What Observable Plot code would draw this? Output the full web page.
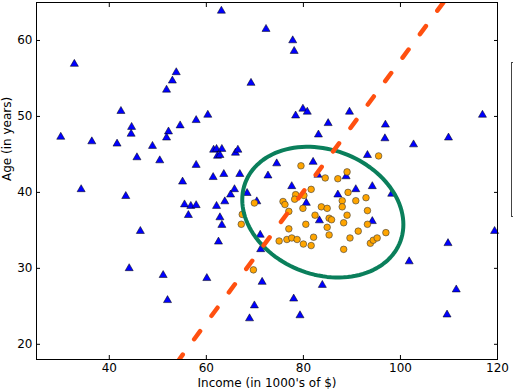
<!DOCTYPE html>
<html>
<head>
<meta charset="utf-8">
<script src="https://cdn.jsdelivr.net/npm/d3@7"></script>
<script src="https://cdn.jsdelivr.net/npm/@observablehq/plot@0.6"></script>
<style>
  html, body { margin: 0; padding: 0; background: white; overflow: hidden; }
  #wrap { position: relative; width: 513px; height: 392px; overflow: hidden; }
  #legendbox { position: absolute; left: 511px; top: 62px; width: 20px; height: 153px;
    border: 1.5px solid #444; background: white; }
</style>
</head>
<body>
<div id="wrap"><div id="legendbox"></div></div>
<script>
// Class A (blue triangles): income (1000's of $), age (years)
const triIncome = [63.1,32.8,53.8,53.0,51.8,69.2,42.4,60.3,57.9,54.6,44.6,44.5,52.2,51.8,30.0,36.4,41.6,48.9,45.7,50.4,
  57.9,61.5,62.1,63.2,62.3,62.8,66.0,66.5,63.6,61.4,66.9,55.1,34.2,43.4,65.8,65.0,68.4,55.5,56.8,57.9,
  56.3,62.1,63.8,62.8,63.2,62.5,70.4,46.4,44.1,51.1,60.1,52.0,69.9,68.9,71.1,71.2,71.5,72.3,77.8,78.1,
  79.9,80.8,78.4,89.5,85.1,96.9,83.1,96.8,102.7,109.9,116.9,93.2,82.0,74.5,72.7,83.0,88.8,77.6,94.2,87.1,
  90.8,98.2,80.6,83.3,94.2,83.9,78.0,79.3,109.8,101.8,119.4,111.5,109.6];
const triAge = [63.9,56.9,55.8,54.7,53.5,54.4,50.7,50.2,49.5,48.8,48.6,47.7,48.0,47.2,47.3,46.7,46.4,46.1,44.6,44.2,
  43.6,45.6,45.7,45.7,44.8,44.9,45.2,45.6,42.4,42.0,42.4,41.4,40.4,39.5,40.4,39.7,39.9,38.4,38.2,38.3,
  37.0,38.2,38.8,36.7,35.7,33.5,38.8,34.9,30.0,29.1,28.7,25.8,25.1,23.4,34.4,32.5,28.2,61.5,60.0,58.6,
  51.0,50.6,50.1,50.6,49.1,48.9,47.6,47.1,46.3,47.2,50.2,44.9,44.0,43.8,42.2,42.3,42.1,40.8,40.8,39.7,
  40.4,39.8,38.6,36.3,36.2,27.8,26.0,23.8,33.3,30.9,34.9,27.2,23.9];

// Class B (orange circles)
const circIncome = [79.5,95.5,89.0,87.1,84.5,81.6,78.4,80.1,89.2,92.9,75.8,76.2,78.2,88.0,88.0,90.8,93.2,77.0,79.9,83.7,
  84.9,82.4,89.0,85.3,85.8,80.5,88.3,93.2,84.9,77.0,91.3,85.3,82.1,75.0,76.6,77.6,78.7,80.0,81.6,89.6,
  93.8,94.4,95.2,88.3,97.0,69.9,67.4,67.2,69.7];
const circAge = [43.5,44.8,42.7,41.8,41.9,40.4,39.7,39.6,40.0,39.3,38.8,38.4,39.1,38.9,38.1,38.9,37.6,37.5,37.9,38.1,
  37.9,37.0,37.0,36.6,36.4,35.8,36.0,35.8,35.4,35.2,34.9,34.4,34.1,33.6,33.8,34.0,33.8,33.2,33.0,34.0,
  33.3,33.7,34.0,32.5,34.7,38.6,37.1,35.8,29.8];

// Decision boundary (dashed line) end points
const boundaryIncome = [54.4, 109.3];
const boundaryAge = [18.0, 65.4];

// Ellipse: centre and conjugate half-axes (data units)
const ellipseCenter = [84.0, 37.4];
const ellipseAxisA = [16.6, -1.63];
const ellipseAxisB = [0, 8.45];

const xTicks = [40, 60, 80, 100, 120];
const yTicks = [20, 30, 40, 50, 60];

const tri = triIncome.map((x, i) => ({x, y: triAge[i]}));
const circ = circIncome.map((x, i) => ({x, y: circAge[i]}));
const boundary = boundaryIncome.map((x, i) => ({x, y: boundaryAge[i]}));
const ellipse = d3.range(0, 121).map(i => {
  const t = i / 120 * 2 * Math.PI;
  return {
    x: ellipseCenter[0] + ellipseAxisA[0] * Math.cos(t) + ellipseAxisB[0] * Math.sin(t),
    y: ellipseCenter[1] + ellipseAxisA[1] * Math.cos(t) + ellipseAxisB[1] * Math.sin(t)
  };
});

const chart = Plot.plot({
  width: 513,
  height: 392,
  marginLeft: 36,
  marginRight: 16,
  marginTop: 2,
  marginBottom: 33,
  x: {domain: [25, 120]},
  y: {domain: [18, 65]},
  style: {fontFamily: "DejaVu Sans", fontSize: "12px", color: "black", background: "white"},
  marks: [
    Plot.dot(tri, {x: "x", y: "y", symbol: "triangle", r: 3.0, fill: "#0000ff", stroke: "black", strokeWidth: 0.5}),
    Plot.dot(circ, {x: "x", y: "y", r: 3.3, fill: "#ffa500", stroke: "#3a3a3a", strokeWidth: 0.6}),
    Plot.line(ellipse, {x: "x", y: "y", stroke: "#0a7f5b", strokeWidth: 4, clip: true}),
    Plot.line(boundary, {x: "x", y: "y", stroke: "#ff5010", strokeWidth: 4.5, strokeDasharray: "10,19.2",
      strokeDashoffset: 4, strokeLinecap: "round", clip: true}),
    Plot.axisX({ticks: xTicks, tickSize: -4, tickPadding: 8, label: null, tickFormat: d => d}),
    Plot.axisX({anchor: "top", ticks: xTicks, tickSize: -4, fill: "none", label: null}),
    Plot.axisY({ticks: yTicks, tickSize: -4, tickPadding: 8, label: null, tickFormat: d => d}),
    Plot.axisY({anchor: "right", ticks: yTicks, tickSize: -4, fill: "none", label: null}),
    Plot.frame({stroke: "black", strokeWidth: 1}),
    Plot.text(["Income (in 1000's of $)"], {frameAnchor: "bottom", dy: 27, fontSize: 12, fill: "black"}),
    Plot.text(["Age (in years)"], {frameAnchor: "left", rotate: -90, dx: -29, fontSize: 12, fill: "black"})
  ]
});
document.getElementById("wrap").prepend(chart);
</script>
</body>
</html>
